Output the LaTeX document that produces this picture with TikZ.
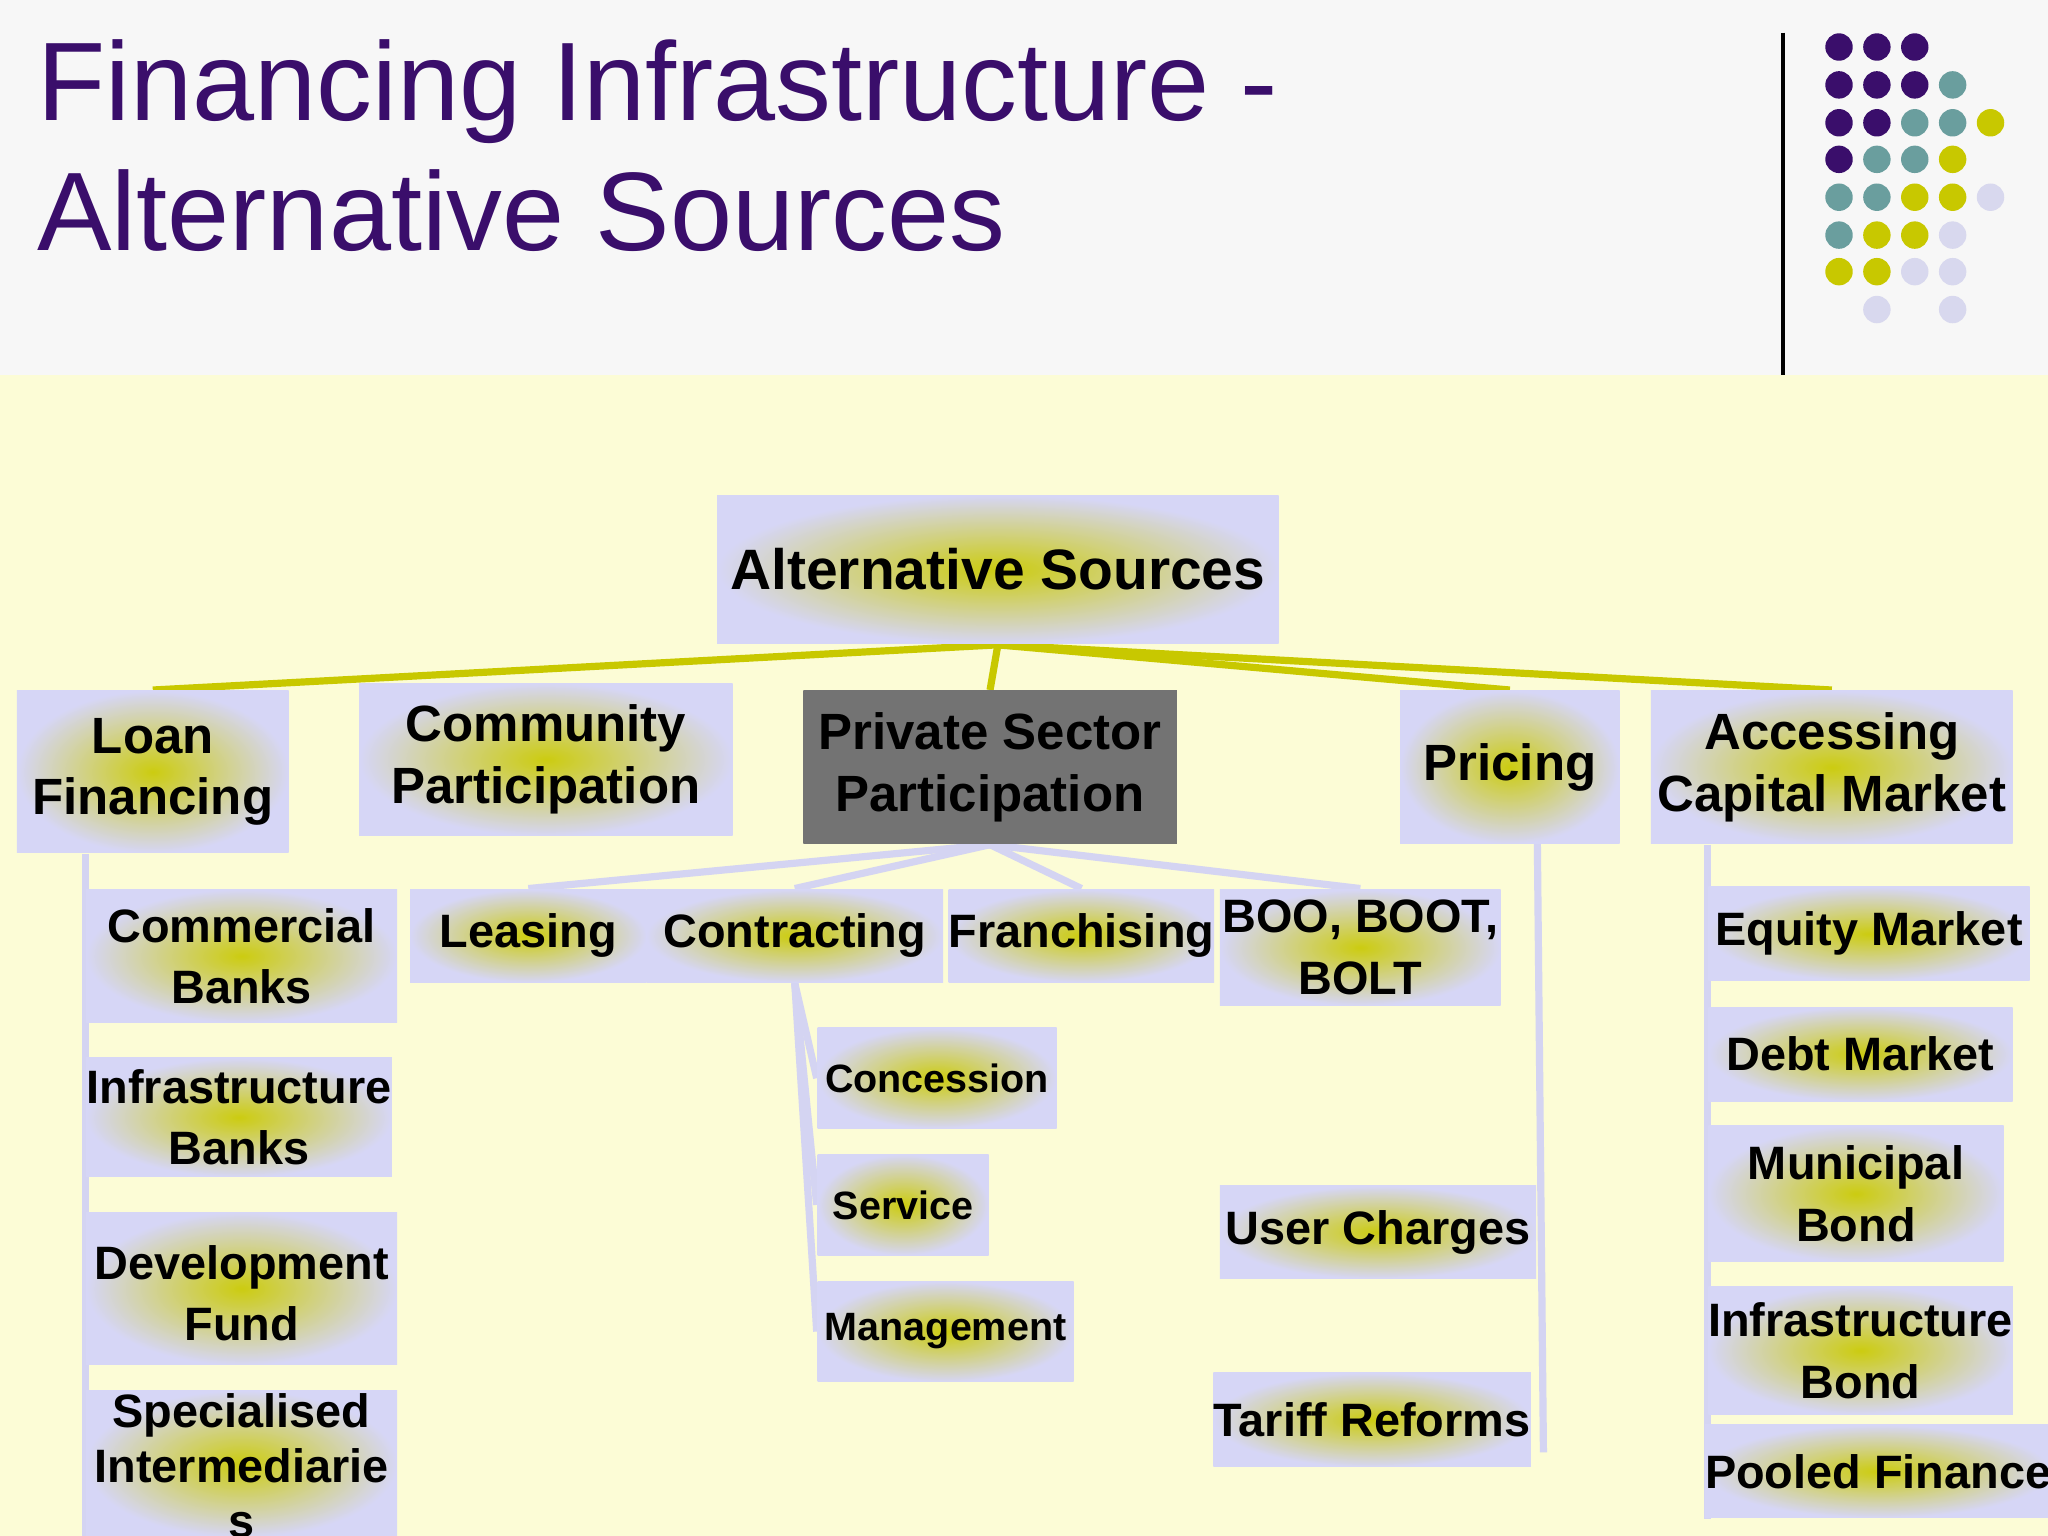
\documentclass[tikz,border=0pt]{standalone}
\usepackage{fontspec}
\setmainfont{Liberation Sans}
\usetikzlibrary{calc}
\definecolor{tpurple}{HTML}{3A0E6B}
\definecolor{dteal}{HTML}{6A9E9E}
\definecolor{dyel}{HTML}{C8C800}
\definecolor{dlav}{HTML}{D8D8EE}
\definecolor{boxlav}{HTML}{D6D6F6}
\definecolor{boxyel}{HTML}{CCCC10}
\definecolor{bgyel}{HTML}{FCFCD6}
\definecolor{linelav}{HTML}{D4D4F2}
\pgfdeclarelayer{bgl}\pgfdeclarelayer{conn}
\pgfsetlayers{bgl,conn,main}
\tikzset{
 box/.style={rectangle,inner sep=0pt,align=center,shading=radial,inner color=boxyel,outer color=boxlav,
   font=\fontsize{10.2}{13.4}\selectfont\bfseries},
 top/.style={font=\fontsize{11.1}{13.4}\selectfont\bfseries},
 small/.style={font=\fontsize{8.6}{11}\selectfont\bfseries},
 dark/.style={shading=radial,inner color=gray!110,outer color=black!55},
 trunk/.style={draw=dyel,line width=0.55mm},
 lav/.style={draw=linelav,line width=0.55mm},
 dot/.style={circle,inner sep=0pt,minimum size=0.21cm},
 ttl/.style={text=tpurple,font=\fontsize{24.3}{28}\selectfont,anchor=base west,inner sep=0pt}
}
\newcommand\bx[7][]{\node[box,#1,minimum width={(#5-#3)*0.01cm},minimum height={(#6-#4)*0.01cm}] (#2) at ({(#3+#5)/2},{(#4+#6)/2}) {#7};}
\begin{document}
\begin{tikzpicture}[x=0.01cm,y=-0.01cm]
\begin{pgfonlayer}{bgl}
\fill[white!97!black] (0,0) rectangle (1568,287);
\fill[bgyel] (0,287) rectangle (1568,1176);
\end{pgfonlayer}
\useasboundingbox (0,0) rectangle (1568,1176);
\node[ttl] (t1) at (28,92) {Financing Infrastructure -};
\node[ttl] (t2) at (28,192) {Alternative Sources};
\coordinate (vl1) at (1365,25); \coordinate (vl2) at (1365,287);
\draw[black,line width=0.3mm] (vl1) -- (vl2);
% dots
\foreach \x/\y/\c in {1408/36/tpurple,1437/36/tpurple,1466/36/tpurple,
 1408/65/tpurple,1437/65/tpurple,1466/65/tpurple,1495/65/dteal,
 1408/94/tpurple,1437/94/tpurple,1466/94/dteal,1495/94/dteal,1524/94/dyel,
 1408/122/tpurple,1437/122/dteal,1466/122/dteal,1495/122/dyel,
 1408/151/dteal,1437/151/dteal,1466/151/dyel,1495/151/dyel,1524/151/dlav,
 1408/180/dteal,1437/180/dyel,1466/180/dyel,1495/180/dlav,
 1408/208/dyel,1437/208/dyel,1466/208/dlav,1495/208/dlav,
 1437/237/dlav,1495/237/dlav}
 \node[dot,fill=\c] (d\x-\y) at (\x,\y) {};
% boxes
\bx[font=\fontsize{12.4}{15}\selectfont\bfseries]{root}{549}{379}{979}{493}{Alternative Sources}
\bx[top]{loan}{13}{529}{221}{653}{Loan\\Financing}
\bx[top]{comm}{275}{523}{561}{640}{Community\\Participation}
\bx[top,dark]{psp}{615}{529}{901}{646}{Private Sector\\Participation}
\bx[top]{pricing}{1072}{529}{1240}{646}{Pricing}
\bx[top]{acm}{1264}{529}{1541}{646}{Accessing\\Capital Market}
\bx{cb}{66}{681}{304}{783}{Commercial\\Banks}
\bx{ib}{66}{810}{300}{901}{Infrastructure\\Banks}
\bx{df}{66}{928}{304}{1045}{\\[-4pt]Development\\Fund}
\node[box,minimum width=2.38cm,minimum height=1.12cm,font=\fontsize{10.2}{12}\selectfont\bfseries,anchor=north,text depth=0pt] (spec) at (185,1064) {};
\node[font=\fontsize{10.2}{12}\selectfont\bfseries,align=center,anchor=north,inner sep=0pt] (spect) at (185,1066) {Specialised\\Intermediarie\\s};
\bx{leas}{314}{681}{495}{752}{Leasing}
\bx{contr}{495}{681}{722}{752}{Contracting}
\bx{fran}{727}{681}{929}{752}{Franchising}
\bx{boo}{934}{681}{1149}{770}{BOO, BOOT,\\BOLT}
\bx[small]{conc}{626}{787}{809}{864}{Concession}
\bx[small]{serv}{626}{884}{757}{961}{Service}
\bx[small]{mgmt}{626}{981}{822}{1058}{Management}
\bx{user}{934}{908}{1176}{979}{User Charges}
\bx{tariff}{929}{1051}{1172}{1123}{Tariff Reforms}
\bx{eq}{1308}{679}{1554}{751}{Equity Market}
\bx{debt}{1308}{771}{1541}{843}{Debt Market}
\bx{muni}{1308}{862}{1534}{966}{Municipal\\Bond}
\bx{infb}{1308}{985}{1541}{1083}{Infrastructure\\Bond}
\bx{pool}{1308}{1091}{1568}{1162}{Pooled Finance}
\begin{pgfonlayer}{conn}
\draw[trunk] (root.south) -- (loan.north);
\draw[trunk] (root.south) -- (psp.north);
\draw[trunk] (root.south) -- (pricing.north);
\draw[trunk] (root.south) -- (acm.north);
\draw[lav] (psp.south) -- (leas.north);
\draw[lav] (psp.south) -- (contr.north);
\draw[lav] (psp.south) -- (fran.north);
\draw[lav] (psp.south) -- (boo.north);
\draw[lav] (cb.west |- loan.south) -- (cb.west |- spec.south);
\draw[lav] (contr.south) -- (conc.west);
\draw[lav] (contr.south) -- (serv.west);
\draw[lav] (contr.south) -- (mgmt.west);
\draw[lav] ($(pricing.south)+(21,-6)$) -- ($(tariff.east)+(9,25)$);
\draw[lav] (eq.west |- acm.south) -- (eq.west |- pool.south);
\end{pgfonlayer}
\end{tikzpicture}
\end{document}
